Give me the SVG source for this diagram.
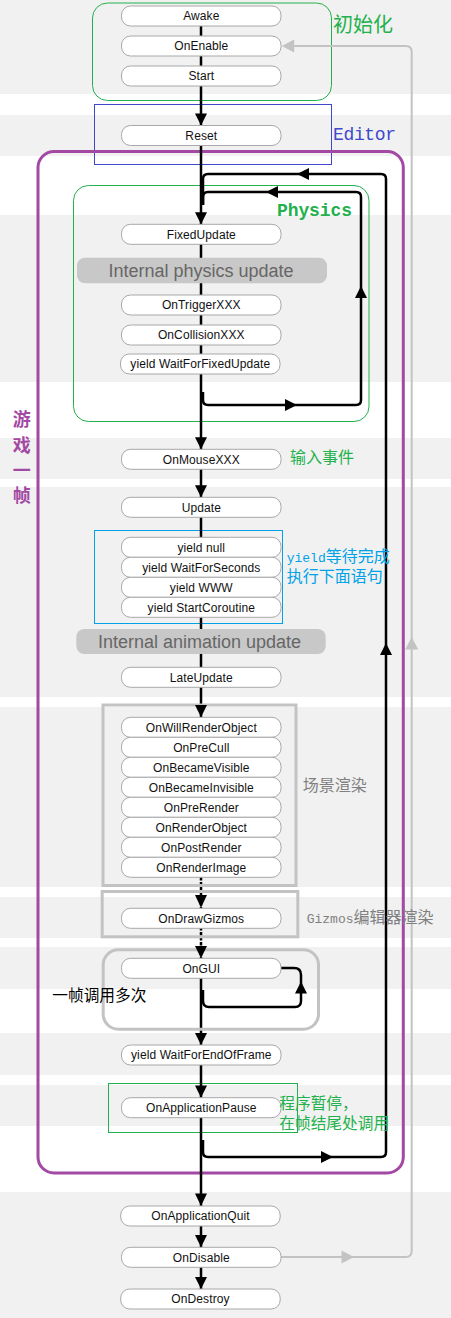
<svg xmlns="http://www.w3.org/2000/svg" width="451" height="1318" viewBox="0 0 451 1318">
<style>
.band{fill:#f1f1f1}
.node rect{fill:#fff;stroke:#a8a8a8;stroke-width:1}
.node text{font-family:'Liberation Sans',Arial,sans-serif;font-size:12px;fill:#111;text-anchor:middle;letter-spacing:0.1px}
.pill{fill:#c8c8c8}
.pilltext{font-family:'Liberation Sans',Arial,sans-serif;font-size:18px;fill:#666;text-anchor:middle}
.spine{stroke:#000;stroke-width:2.5;fill:none}
.loop{stroke:#000;stroke-width:2.5;fill:none}
.gray{stroke:#c3c3c3;stroke-width:2;fill:none}
.gbox{fill:none;stroke:#c3c3c3;stroke-width:3}
.green{fill:none;stroke:#22b14c;stroke-width:1}
.ah{fill:#000;stroke:none}
.ahg{fill:#c3c3c3;stroke:none}
.cjk{font-family:'Noto Sans CJK SC',sans-serif}
.lg{fill:#22b14c}
.lb{fill:#00a2e8}
.lgr{fill:#808080}
</style>
<g id="background">
<rect class="band" x="0" y="0" width="451" height="94"/>
<rect class="band" x="0" y="115" width="451" height="41"/>
<rect class="band" x="0" y="215" width="451" height="167"/>
<rect class="band" x="0" y="438" width="451" height="41"/>
<rect class="band" x="0" y="487" width="451" height="210"/>
<rect class="band" x="0" y="707" width="451" height="180"/>
<rect class="band" x="0" y="897" width="451" height="41"/>
<rect class="band" x="0" y="947" width="451" height="42"/>
<rect class="band" x="0" y="1033" width="451" height="42"/>
<rect class="band" x="0" y="1085" width="451" height="41"/>
<rect class="band" x="0" y="1192" width="451" height="126"/>
</g>
<g id="groups">
<rect id="init-box" class="green" x="92.5" y="3" width="239" height="97.5" rx="15"/>
<rect id="editor-box" x="94.5" y="104.5" width="237" height="60" fill="none" stroke="#3f48cc" stroke-width="1"/>
<rect id="frame-box" x="38" y="151.5" width="365.3" height="1021.5" rx="16" fill="none" stroke="#a349a4" stroke-width="3"/>
<rect id="physics-box" class="green" x="73.5" y="185.5" width="295.5" height="236" rx="15"/>
<rect id="yield-box" x="94.5" y="530.5" width="188" height="93" fill="none" stroke="#00a2e8" stroke-width="1"/>
<rect id="pause-box" class="green" x="108.5" y="1083.5" width="189" height="49"/>
</g>
<g id="connectors">
<path class="spine" d="M201 16V877"/>
<path class="spine" d="M201 877V958" stroke-dasharray="3.5 1.5"/>
<path class="spine" d="M201 958V1299"/>
<path class="loop" d="M203 1140V1152Q203 1157 208 1157H381Q386 1157 386 1152V179Q386 174 381 174H208Q203 174 203 179V205"/>
<path class="loop" d="M203 392V400Q203 405 208 405H356Q361 405 361 400V197Q361 192 356 192H208Q203 192 203 197V205"/>
<path class="loop" d="M281 968H294Q301 968 301 975V1001Q301 1007 295 1007H209Q203 1007 203 1001V990"/>
<path class="gray" d="M281 1257H405.7Q411.7 1257 411.7 1251V52Q411.7 46 405.7 46H292"/>
</g>
<g id="render-frames">
<rect id="render-box" class="gbox" x="103" y="705" width="193" height="180.5"/>
<rect id="gizmos-box" class="gbox" x="102.2" y="891.5" width="195.6" height="45.3"/>
<rect id="gui-box" class="gbox" x="103.2" y="949.8" width="215.3" height="79.4" rx="15"/>
</g>
<g id="connector-heads">
<path class="ah" d="M195 113.5H207L201 125.5Z"/>
<path class="ah" d="M195 212.3H207L201 224.3Z"/>
<path class="ah" d="M195 437.3H207L201 449.3Z"/>
<path class="ah" d="M195 485.3H207L201 497.3Z"/>
<path class="ah" d="M195 705H207L201 717.3Z"/>
<path class="ah" d="M195 895H207L201 907.8Z"/>
<path class="ah" d="M195 946H207L201 958.3Z"/>
<path class="ah" d="M195 1033H207L201 1045Z"/>
<path class="ah" d="M195 1085.5H207L201 1097.7Z"/>
<path class="ah" d="M195 1193.5H207L201 1206Z"/>
<path class="ah" d="M195 1235H207L201 1247.3Z"/>
<path class="ah" d="M195 1277H207L201 1289Z"/>
<path class="ah" d="M309 168H309V180L297 174Z"/>
<path class="ah" d="M278 186V198L266 192Z"/>
<path class="ah" d="M285 399V411L297 405Z"/>
<path class="ah" d="M355 298H367L361 286Z"/>
<path class="ah" d="M380 655H392L386 643Z"/>
<path class="ah" d="M321 1151V1163L333 1157Z"/>
<path class="ah" d="M295 993.5H307L301 981.5Z"/>
<path class="ahg" d="M294.2 39.5V52.5L281.7 46Z"/>
<path class="ahg" d="M341.5 1250.5V1263.5L354 1257Z"/>
<path class="ahg" d="M405.2 649.5H418.2L411.7 637Z"/>
</g>
<g id="pills">
<g id="internal-physics"><rect class="pill" x="77" y="257.7" width="250" height="25.6" rx="8"/><text class="pilltext" x="201" y="276.5">Internal physics update</text></g>
<g id="internal-animation"><rect class="pill" x="76.3" y="629" width="249.4" height="25" rx="8"/><text class="pilltext" x="199.5" y="648">Internal animation update</text></g>
</g>
<g id="n-awake" class="node"><rect x="121.5" y="6" width="159.5" height="20" rx="9"/><text x="201.3" y="20.3">Awake</text></g>
<g id="n-onenable" class="node"><rect x="121.5" y="36" width="159.5" height="20" rx="9"/><text x="201.3" y="50.3">OnEnable</text></g>
<g id="n-start" class="node"><rect x="121.5" y="66" width="159.5" height="20" rx="9"/><text x="201.3" y="80.3">Start</text></g>
<g id="n-reset" class="node"><rect x="121.5" y="125.5" width="159.5" height="20" rx="9"/><text x="201.3" y="139.8">Reset</text></g>
<g id="n-fixedupdate" class="node"><rect x="121.5" y="224.3" width="159.5" height="20" rx="9"/><text x="201.3" y="238.6">FixedUpdate</text></g>
<g id="n-ontrigger" class="node"><rect x="121.5" y="295" width="159.5" height="20" rx="9"/><text x="201.3" y="309.3">OnTriggerXXX</text></g>
<g id="n-oncollision" class="node"><rect x="121.5" y="325" width="159.5" height="20" rx="9"/><text x="201.3" y="339.3">OnCollisionXXX</text></g>
<g id="n-waitfixed" class="node"><rect x="120.5" y="354" width="159.5" height="20" rx="9"/><text x="200.3" y="368.3">yield WaitForFixedUpdate</text></g>
<g id="n-onmouse" class="node"><rect x="121.5" y="449.3" width="159.5" height="20" rx="9"/><text x="201.3" y="463.6">OnMouseXXX</text></g>
<g id="n-update" class="node"><rect x="121.5" y="497.3" width="159.5" height="20" rx="9"/><text x="201.3" y="511.6">Update</text></g>
<g id="n-yieldnull" class="node"><rect x="121.5" y="537.3" width="159.5" height="20" rx="9"/><text x="201.3" y="551.6">yield null</text></g>
<g id="n-waitseconds" class="node"><rect x="121.5" y="557.3" width="159.5" height="20" rx="9"/><text x="201.3" y="571.6">yield WaitForSeconds</text></g>
<g id="n-www" class="node"><rect x="121.5" y="577.3" width="159.5" height="20" rx="9"/><text x="201.3" y="591.6">yield WWW</text></g>
<g id="n-startcoroutine" class="node"><rect x="121.5" y="597.3" width="159.5" height="20" rx="9"/><text x="201.3" y="611.6">yield StartCoroutine</text></g>
<g id="n-lateupdate" class="node"><rect x="121.5" y="667.3" width="159.5" height="20" rx="9"/><text x="201.3" y="681.6">LateUpdate</text></g>
<g id="n-willrender" class="node"><rect x="121.5" y="717.3" width="159.5" height="20" rx="9"/><text x="201.3" y="731.6">OnWillRenderObject</text></g>
<g id="n-precull" class="node"><rect x="121.5" y="737.3" width="159.5" height="20" rx="9"/><text x="201.3" y="751.6">OnPreCull</text></g>
<g id="n-visible" class="node"><rect x="121.5" y="757.3" width="159.5" height="20" rx="9"/><text x="201.3" y="771.6">OnBecameVisible</text></g>
<g id="n-invisible" class="node"><rect x="121.5" y="777.3" width="159.5" height="20" rx="9"/><text x="201.3" y="791.6">OnBecameInvisible</text></g>
<g id="n-prerender" class="node"><rect x="121.5" y="797.3" width="159.5" height="20" rx="9"/><text x="201.3" y="811.6">OnPreRender</text></g>
<g id="n-renderobject" class="node"><rect x="121.5" y="817.3" width="159.5" height="20" rx="9"/><text x="201.3" y="831.6">OnRenderObject</text></g>
<g id="n-postrender" class="node"><rect x="121.5" y="837.3" width="159.5" height="20" rx="9"/><text x="201.3" y="851.6">OnPostRender</text></g>
<g id="n-renderimage" class="node"><rect x="121.5" y="857.3" width="159.5" height="20" rx="9"/><text x="201.3" y="871.6">OnRenderImage</text></g>
<g id="n-drawgizmos" class="node"><rect x="121.5" y="908.3" width="159.5" height="20" rx="9"/><text x="201.3" y="922.6">OnDrawGizmos</text></g>
<g id="n-ongui" class="node"><rect x="121.5" y="958.3" width="159.5" height="20" rx="9"/><text x="201.3" y="972.6">OnGUI</text></g>
<g id="n-endofframe" class="node"><rect x="121.5" y="1045" width="159.5" height="20" rx="9"/><text x="201.3" y="1059.3">yield WaitForEndOfFrame</text></g>
<g id="n-pause" class="node"><rect x="121.5" y="1097.7" width="159.5" height="20" rx="9"/><text x="201.3" y="1112">OnApplicationPause</text></g>
<g id="n-quit" class="node"><rect x="120.7" y="1206" width="159.5" height="20" rx="9"/><text x="200.5" y="1220.3">OnApplicationQuit</text></g>
<g id="n-disable" class="node"><rect x="121.5" y="1247.3" width="159.5" height="20" rx="9"/><text x="201.3" y="1261.6">OnDisable</text></g>
<g id="n-destroy" class="node"><rect x="120.7" y="1289" width="159.5" height="20" rx="9"/><text x="200.5" y="1303.3">OnDestroy</text></g>
<g id="labels">
<text class="cjk lg" x="333" y="32" font-size="20">初始化</text>
<text x="333" y="140" font-family="'Liberation Mono',monospace" font-size="18" fill="#3f48cc" textLength="63" lengthAdjust="spacing">Editor</text>
<text x="277" y="216" font-family="'Liberation Mono',monospace" font-size="18" font-weight="bold" class="lg" textLength="75" lengthAdjust="spacing">Physics</text>
<text class="cjk lg" x="290" y="463" font-size="16">输入事件</text>
<text class="cjk lb" x="286.7" y="562" font-size="16"><tspan font-family="'Liberation Mono',monospace" font-size="13">yield</tspan>等待完成</text>
<text class="cjk lb" x="286.7" y="582" font-size="16">执行下面语句</text>
<text class="cjk lgr" x="302.7" y="791" font-size="16">场景渲染</text>
<text class="cjk lgr" x="306.7" y="922.5" font-size="16"><tspan font-family="'Liberation Mono',monospace" font-size="13">Gizmos</tspan>编辑器渲染</text>
<text class="cjk" x="52.3" y="1000.5" font-size="15.7" fill="#000">一帧调用多次</text>
<text class="cjk lg" x="279.3" y="1109" font-size="15.7">程序暂停，</text>
<text class="cjk lg" x="279.3" y="1129" font-size="15.7">在帧结尾处调用</text>
<text class="cjk" font-size="18" font-weight="bold" fill="#a349a4" text-anchor="middle"><tspan x="21.7" y="426">游</tspan><tspan x="21.7" y="451.5">戏</tspan><tspan x="21.7" y="477">一</tspan><tspan x="21.7" y="502">帧</tspan></text>
</g>
</svg>
